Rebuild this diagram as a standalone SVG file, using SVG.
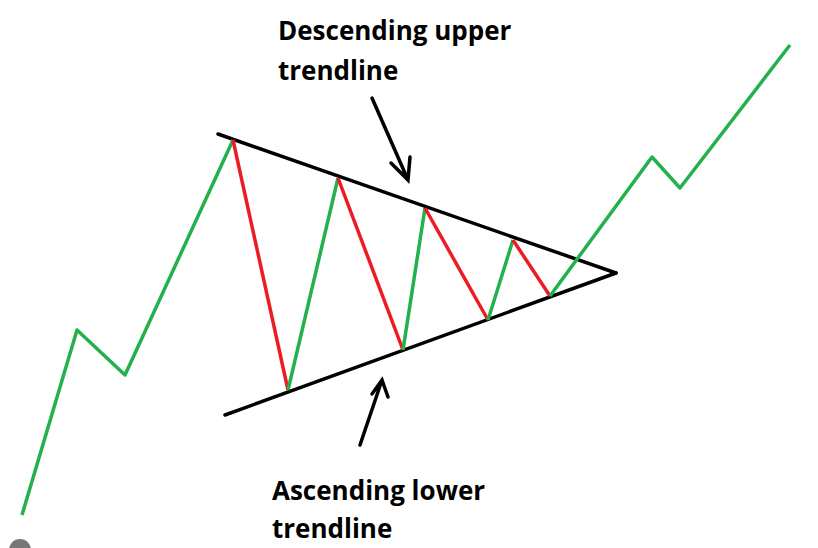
<svg xmlns="http://www.w3.org/2000/svg" width="818" height="548" viewBox="0 0 818 548">
<style>
.g{stroke:#22b14c;stroke-width:3.5;fill:none;stroke-linejoin:round}
.r{stroke:#ed1c24;stroke-width:3.5;fill:none}
.k{stroke:#000;stroke-width:3.5;fill:none;stroke-linecap:round}
text{font-family:"Open Sans","Liberation Sans",sans-serif;font-weight:bold;font-size:26px;fill:#000}
</style>
<rect width="818" height="548" fill="#fff"/>
<g id="trendlines">
<line class="k" x1="218" y1="134" x2="616" y2="273"/>
<line class="k" x1="225" y1="415" x2="616" y2="273"/>
</g>
<g id="price">
<polyline class="g" points="22,515 77,330 125,375 233,140"/>
<line class="r" x1="233" y1="140" x2="288" y2="390"/>
<line class="g" x1="288" y1="390" x2="338" y2="178"/>
<line class="r" x1="338" y1="178" x2="403" y2="350"/>
<line class="g" x1="403" y1="350" x2="425" y2="208"/>
<line class="r" x1="425" y1="208" x2="488" y2="320"/>
<line class="g" x1="488" y1="320" x2="513" y2="240"/>
<line class="r" x1="513" y1="240" x2="550" y2="296"/>
<polyline class="g" points="550,296 652,157 680,188 790,45"/>
</g>
<g id="connectors">
<path class="k" d="M372,98 L408,180 M391,163 L408,180 L410,157"/>
<path class="k" d="M360,445 L382,380 M372,394 L382,380 L388,397"/>
</g>
<g id="label-upper">
<text x="278" y="40">Descending upper</text>
<text x="278" y="80">trendline</text>
</g>
<g id="label-lower">
<text x="272" y="500">Ascending lower</text>
<text x="272" y="538">trendline</text>
</g>
<circle cx="20" cy="550" r="11" fill="#777"/>
</svg>
